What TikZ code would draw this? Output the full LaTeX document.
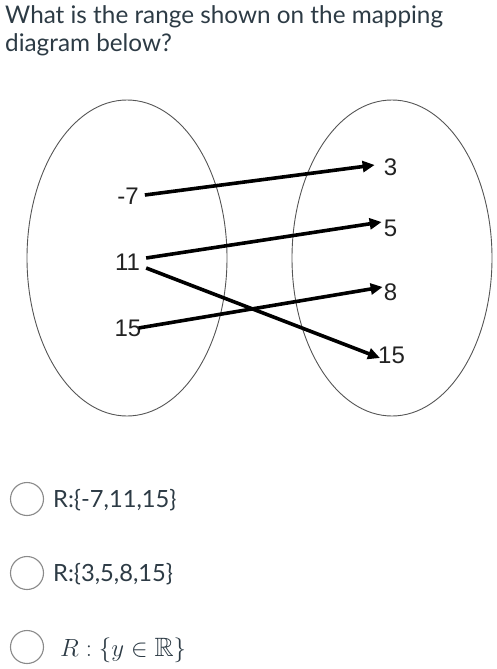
\documentclass[tikz,border=0pt]{standalone}
\usepackage{fontspec}
\usepackage{amssymb}
\setmainfont{Lato}
\newfontfamily\numfont{Liberation Sans}
\usetikzlibrary{arrows.meta}
\definecolor{txt}{HTML}{2D3B45}
\definecolor{ell}{HTML}{555555}
\definecolor{rad}{HTML}{8A8A8A}
\definecolor{numc}{HTML}{222222}
\tikzset{
  setell/.style={draw=ell, line width=0.9},
  num/.style={font=\numfont\fontsize{24}{24}\selectfont, inner sep=1pt, text=numc},
  maparrow/.style={line width=3.6, -{Triangle[length=12, width=11]}, black},
  radio/.style={circle, draw=rad, line width=1.1, fill=white, minimum size=33, inner sep=0},
  opt/.style={anchor=base west, font=\fontsize{23.7}{23.7}\selectfont, text=txt, inner sep=0},
  ttl/.style={anchor=base west, font=\fontsize{24.3}{27}\selectfont, text=txt, inner sep=0},
}
\begin{document}
\begin{tikzpicture}[x=1pt,y=-1pt]
\useasboundingbox (0,0) rectangle (497,669);
\node[ttl] (title1) at (5,24) {What is the range shown on the mapping};
\node[ttl] (title2) at (5,52) {diagram below?};
\draw[setell] (127,258) ellipse [x radius=100, y radius=158];
\draw[setell] (392,258) ellipse [x radius=100, y radius=158];
\node[num] (m7) at (128,196) {-7};
\node[num] (l11) at (127.5,262) {11};
\node[num] (l15) at (128,328) {15};
\node[num] (r3) at (390.5,167) {3};
\node[num] (r5) at (390.5,228) {5};
\node[num] (r8) at (390.5,292) {8};
\node[num] (r15) at (391.5,355) {15};
\draw[maparrow] ([xshift=5,yshift=1]m7.east) -- ([xshift=-8,yshift=2]r3.west);
\draw[maparrow] ([xshift=5,yshift=4]l11.east) -- ([xshift=-1,yshift=6]r5.west);
\draw[maparrow] ([xshift=5,yshift=-6]l11.east) -- ([xshift=3,yshift=-3]r15.west);
\draw[maparrow] ([xshift=-4]l15.east) -- ([xshift=0,yshift=5]r8.west);
\node[radio] (c1) at (27,499) {};
\node[radio] (c2) at (27,573) {};
\node[radio] (c3) at (27,647) {};
\node[opt] (o1) at (53,507) {R:\{-7,11,15\}};
\node[opt] (o2) at (53,581) {R:\{3,5,8,15\}};
\node[opt, font=\fontsize{26.5}{26.5}\selectfont] (o3) at (60,656) {$R:\{y\in\mathbb{R}\}$};
\end{tikzpicture}
\end{document}
